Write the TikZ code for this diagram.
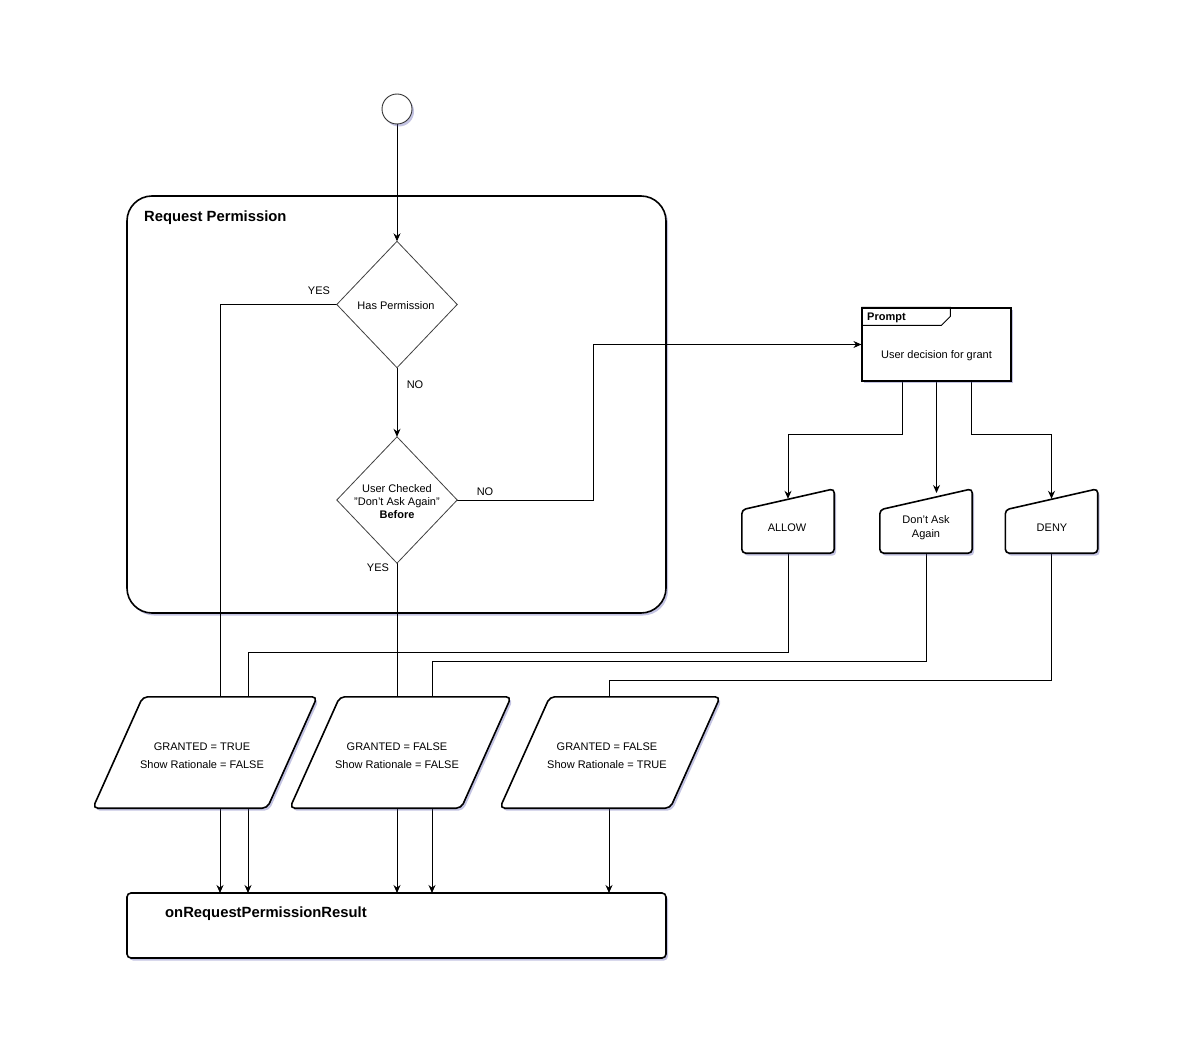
\documentclass[tikz,border=0pt]{standalone}
\usepackage{fontspec}
\setmainfont{Liberation Sans}
\usetikzlibrary{arrows.meta,calc,shadows}
\pgfdeclarelayer{bg}
\pgfdeclarelayer{edges}
\pgfdeclarelayer{shapes}
\pgfsetlayers{bg,edges,shapes,main}
\tikzset{
  shad/.style={drop shadow={shadow xshift=2pt,shadow yshift=-2.5pt,opacity=0.35,fill=blue!35!gray}},
  arr/.style={draw=black,line width=0.9pt,-{Stealth[length=8pt,width=7pt]}},
  lbl/.style={font=\fontsize{11}{13}\selectfont,inner sep=0pt},
  txt/.style={font=\fontsize{11}{13}\selectfont,align=center,inner sep=0pt},
  ttl/.style={font=\fontsize{14.8}{17}\selectfont\bfseries,inner sep=0pt,anchor=west},
  diabox/.style={minimum width=120pt,minimum height=126pt,inner sep=0pt},
  dia/.style={draw=black!75,line width=0.8pt,fill=white},
  mibox/.style={minimum width=92pt,minimum height=54pt,inner sep=0pt},
  mi/.style={draw=black,line width=1.6pt,fill=white,rounded corners=4pt,shad},
  pgbox/.style={minimum height=111pt,inner sep=0pt},
  pg/.style={draw=black,line width=1.6pt,fill=white,rounded corners=5pt,shad},
  bigbox/.style={draw=black,line width=1.6pt,fill=white,shad,inner sep=0pt},
}
\begin{document}
\begin{tikzpicture}[x=1pt,y=-1pt]
\useasboundingbox (0,0) rectangle (1200,1059);

% container
\begin{pgfonlayer}{bg}
  \node[bigbox,rounded corners=25pt,minimum width=539pt,minimum height=417pt] (req) at (396.5,404.5) {};
\end{pgfonlayer}
\node[ttl] (reqt) at (144,217.5) {Request Permission};

% start
\node[circle,draw=black!80,line width=0.9pt,fill=white,minimum size=30pt,inner sep=0pt,shad] (start) at (397,109) {};

% shapes
\begin{pgfonlayer}{shapes}
  \node[diabox] (hp) at (397,304.5) {};
  \draw[dia] (hp.north) -- (hp.east) -- (hp.south) -- (hp.west) -- cycle;
  \node[diabox] (dc) at (397,500) {};
  \draw[dia] (dc.north) -- (dc.east) -- (dc.south) -- (dc.west) -- cycle;

  \node[draw=black,line width=1.2pt,fill=white,minimum width=149pt,minimum height=73pt,inner sep=0pt,shad] (prompt) at (936.5,344.5) {};
  \draw[black,line width=0.9pt] (prompt.north west) -- ++(89,0) -- ++(0,9) -- ++(-9,9) -- ($(prompt.north west)+(0,18)$);

  \node[mibox] (allow) at (788,526) {};
  \node[mibox] (dont) at (926,526) {};
  \node[mibox] (deny) at (1051.5,526) {};
  \foreach \n in {allow,dont,deny}{
    \draw[mi] (\n.south west) -- ($(\n.north west)+(0,11)$) -- ($(\n.north east)+(0,-10)$) -- (\n.south east) -- cycle;
  }

  \node[pgbox,minimum width=224pt] (g1) at (205,752.5) {};
  \node[pgbox,minimum width=221pt] (g2) at (400.5,752.5) {};
  \node[pgbox,minimum width=220pt] (g3) at (610,752.5) {};
  \foreach \n in {g1,g2,g3}{
    \draw[pg] (\n.south west) -- ($(\n.north west)+(50,0)$) -- (\n.north east) -- ($(\n.south east)+(-50,0)$) -- cycle;
  }

  \node[bigbox,rounded corners=4pt,minimum width=539pt,minimum height=65pt] (res) at (396.5,925.5) {};
\end{pgfonlayer}

% texts
\node[txt] (hpt) at (396,306) {Has Permission};
\node[txt] (dct) at (397,501.5) {User Checked\\"Don't Ask Again"\\\textbf{Before}};
\node[font=\fontsize{11}{13}\selectfont\bfseries,inner sep=0pt,anchor=west] (promptl) at (867,318) {Prompt};
\node[txt] (promptx) at (936.5,355.5) {User decision for grant};
\node[txt] (allowt) at (787,527.5) {ALLOW};
\node[txt,font=\fontsize{11}{14}\selectfont] (dontt) at (926,527.5) {Don't Ask\\Again};
\node[txt] (denyt) at (1052,527.5) {DENY};
\node[txt,font=\fontsize{11}{18}\selectfont] (g1t) at (202,755.5) {GRANTED = TRUE\\Show Rationale = FALSE};
\node[txt,font=\fontsize{11}{18}\selectfont] (g2t) at (397,755.5) {GRANTED = FALSE\\Show Rationale = FALSE};
\node[txt,font=\fontsize{11}{18}\selectfont] (g3t) at (607,755.5) {GRANTED = FALSE\\Show Rationale = TRUE};
\node[ttl] (rest) at (165,913.5) {onRequestPermissionResult};

% labels
\node[lbl] (lyes1) at (319,291) {YES};
\node[lbl] (lno1) at (415,384.5) {NO};
\node[lbl] (lno2) at (485,491.5) {NO};
\node[lbl] (lyes2) at (378,567.5) {YES};

% connector ends
\coordinate (r1) at (220,893);
\coordinate (r2) at (248,893);
\coordinate (r3) at (397,893);
\coordinate (r4) at (432,893);
\coordinate (r5) at (609,893);
\coordinate (dtop) at (936.5,493);

\begin{pgfonlayer}{edges}
  \draw[arr] (start) -- (hp.north);
  \draw[arr] (hp.south) -- (dc.north);
  \draw[arr] (hp.west) -| (r1);
  \draw[arr] (dc.south) -- (r3);
  \draw[arr] (dc.east) -- ++(136,0) |- (prompt.west);
  \draw[arr] ($(prompt.south)+(-34.5,0)$) -- ++(0,53) -| (allow.north);
  \draw[arr] (prompt.south) -- (dtop);
  \draw[arr] ($(prompt.south)+(34.5,0)$) -- ++(0,53) -| (deny.north);
  \draw[arr] (allow.south) -- ++(0,99) -| (r2);
  \draw[arr] (dont.south) -- ++(0,108) -| (r4);
  \draw[arr] (deny.south) -- ++(0,127) -| (r5);
\end{pgfonlayer}
\end{tikzpicture}
\end{document}
